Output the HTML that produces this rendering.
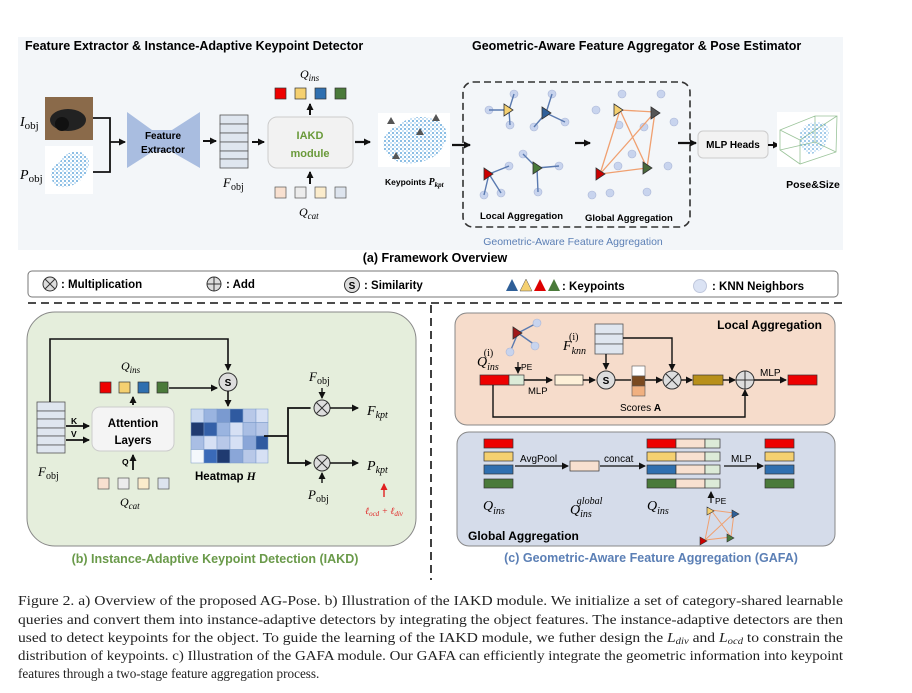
<!DOCTYPE html>
<html><head><meta charset="utf-8"><style>
body{margin:0;background:#fff}
svg{display:block}
text{font-family:"Liberation Sans",sans-serif}
.b{font-weight:bold}
.m{font-family:"Liberation Serif",serif;font-style:italic}
.cap{font-family:"Liberation Serif",serif;font-size:13.2px;fill:#222}
</style></head><body>
<svg width="912" height="693" viewBox="0 0 912 693" xmlns="http://www.w3.org/2000/svg">
<defs>
<marker id="a" markerWidth="8" markerHeight="8" refX="6" refY="4" orient="auto" markerUnits="userSpaceOnUse"><path d="M0,0.5 L7,4 L0,7.5z" fill="#111"/></marker>
<marker id="r" markerWidth="8" markerHeight="8" refX="6" refY="4" orient="auto" markerUnits="userSpaceOnUse"><path d="M0,0.5 L7,4 L0,7.5z" fill="#e02020"/></marker>
<marker id="o" markerWidth="6" markerHeight="6" refX="5" refY="3" orient="auto" markerUnits="userSpaceOnUse"><path d="M0,0 L5,3 L0,6z" fill="#f0a070"/></marker>
<pattern id="dots" width="4" height="4" patternUnits="userSpaceOnUse"><circle cx="1" cy="1" r="0.9" fill="#3a8fd0"/><circle cx="3" cy="3" r="0.7" fill="#7ab8e8"/></pattern>
</defs>

<!-- top panel -->
<rect x="18" y="37" width="825" height="213" fill="#f3f6f9"/>
<text x="25" y="50" class="b" font-size="12.5">Feature Extractor &amp; Instance-Adaptive Keypoint Detector</text>
<text x="472" y="50" class="b" font-size="12.5">Geometric-Aware Feature Aggregator &amp; Pose Estimator</text>

<text x="20" y="126" class="m" font-size="14">I<tspan font-style="normal" font-size="11" dy="3">obj</tspan></text>
<rect x="45" y="97" width="48" height="43" fill="#8a6a4a"/>
<ellipse cx="68" cy="120" rx="18" ry="11" fill="#222"/><circle cx="62" cy="124" r="7" fill="#111"/>
<text x="20" y="179" class="m" font-size="14">P<tspan font-style="normal" font-size="11" dy="3">obj</tspan></text>
<rect x="45" y="146" width="48" height="48" fill="#fff"/>
<path d="M52,180 Q48,168 60,162 Q66,150 80,152 Q92,156 88,168 Q84,182 70,186 Q56,190 52,180z" fill="url(#dots)"/>
<path d="M93,118 H110 V172 H93 M110,142 H125" fill="none" stroke="#111" stroke-width="1.8" marker-end="url(#a)"/>
<path d="M127,112 L152,130 L172,130 L200,112 L200,168 L172,152 L152,152 L127,168z" fill="#a9bde0"/>
<text x="163" y="139" text-anchor="middle" class="b" font-size="10">Feature</text>
<text x="163" y="153" text-anchor="middle" class="b" font-size="10">Extractor</text>
<line x1="203" y1="141" x2="216" y2="141" stroke="#111" stroke-width="2" marker-end="url(#a)"/>
<g fill="#dfe6ef" stroke="#555" stroke-width="0.8">
<rect x="220" y="115" width="28" height="9"/><rect x="220" y="124" width="28" height="9"/><rect x="220" y="133" width="28" height="9"/><rect x="220" y="142" width="28" height="9"/><rect x="220" y="151" width="28" height="8"/><rect x="220" y="159" width="28" height="9"/></g>
<text x="223" y="187" class="m" font-size="13">F<tspan font-style="normal" font-size="10" dy="3">obj</tspan></text>
<line x1="252" y1="142" x2="264" y2="142" stroke="#111" stroke-width="2" marker-end="url(#a)"/>
<rect x="268" y="117" width="85" height="51" rx="9" fill="#f2f2f2" stroke="#ccc"/>
<text x="310" y="139" text-anchor="middle" class="b" font-size="11" fill="#6a9a3a">IAKD</text>
<text x="310" y="157" text-anchor="middle" class="b" font-size="11" fill="#6a9a3a">module</text>
<text x="300" y="78" class="m" font-size="12">Q<tspan font-size="9" dy="3">ins</tspan></text>
<rect x="275" y="88" width="11" height="11" fill="#e00" stroke="#333" stroke-width=".7"/><rect x="295" y="88" width="11" height="11" fill="#f5d070" stroke="#333" stroke-width=".7"/><rect x="315" y="88" width="11" height="11" fill="#2f6fb0" stroke="#333" stroke-width=".7"/><rect x="335" y="88" width="11" height="11" fill="#4a7a3a" stroke="#333" stroke-width=".7"/>
<line x1="310" y1="115" x2="310" y2="104" stroke="#111" stroke-width="2" marker-end="url(#a)"/>
<line x1="310" y1="184" x2="310" y2="172" stroke="#111" stroke-width="2" marker-end="url(#a)"/>
<rect x="275" y="187" width="11" height="11" fill="#f8e0d0" stroke="#555" stroke-width=".7"/><rect x="295" y="187" width="11" height="11" fill="#ececec" stroke="#555" stroke-width=".7"/><rect x="315" y="187" width="11" height="11" fill="#fbeccc" stroke="#555" stroke-width=".7"/><rect x="335" y="187" width="11" height="11" fill="#dde4ee" stroke="#555" stroke-width=".7"/>
<text x="299" y="216" class="m" font-size="12">Q<tspan font-size="9" dy="3">cat</tspan></text>
<line x1="355" y1="142" x2="370" y2="142" stroke="#111" stroke-width="2.2" marker-end="url(#a)"/>
<rect x="378" y="113" width="72" height="54" fill="#fff"/>
<path d="M384,150 Q380,132 398,126 Q410,114 430,118 Q450,124 446,140 Q440,158 420,162 Q396,168 384,150z" fill="url(#dots)"/>
<path d="M391,117 l4,7 h-8z M436,114 l4,7 h-8z M396,152 l4,7 h-8z M420,128 l4,7 h-8z" fill="#555"/>
<text x="385" y="185" class="b" font-size="8.5">Keypoints <tspan class="m" font-size="10">P<tspan font-size="7" dy="2">kpt</tspan></tspan></text>
<line x1="452" y1="145" x2="470" y2="145" stroke="#111" stroke-width="2.2" marker-end="url(#a)"/>
<rect x="463" y="82" width="227" height="145" rx="10" fill="none" stroke="#333" stroke-width="1.6" stroke-dasharray="7,4"/>
<g fill="#c8d4ee" stroke="#aab6d6" stroke-width=".6">
<circle cx="514" cy="94" r="4"/><circle cx="489" cy="110" r="4"/><circle cx="510" cy="125" r="4"/><circle cx="552" cy="94" r="4"/><circle cx="534" cy="127" r="4"/><circle cx="565" cy="122" r="4"/>
<circle cx="509" cy="166" r="4"/><circle cx="484" cy="195" r="4"/><circle cx="501" cy="193" r="4"/><circle cx="523" cy="154" r="4"/><circle cx="559" cy="166" r="4"/><circle cx="538" cy="192" r="4"/>
<circle cx="622" cy="94" r="4"/><circle cx="661" cy="94" r="4"/><circle cx="596" cy="110" r="4"/><circle cx="619" cy="125" r="4"/><circle cx="644" cy="127" r="4"/><circle cx="674" cy="122" r="4"/><circle cx="632" cy="154" r="4"/><circle cx="618" cy="166" r="4"/><circle cx="668" cy="166" r="4"/><circle cx="592" cy="195" r="4"/><circle cx="610" cy="193" r="4"/><circle cx="647" cy="192" r="4"/></g>
<g stroke="#5a7ab0" stroke-width="1.4">
<path d="M509,110 L489,110 M509,110 L514,94 M509,110 L510,125"/><path d="M546,113 L552,94 M546,113 L534,127 M546,113 L565,122"/>
<path d="M489,174 L484,195 M489,174 L501,193 M489,174 L509,166"/><path d="M537,168 L523,154 M537,168 L559,166 M537,168 L538,192"/></g>
<path d="M504,104 l9,6 l-9,6z" fill="#f5d070" stroke="#333" stroke-width=".8"/>
<path d="M542,107 l9,6 l-9,6z" fill="#2f5f98" stroke="#333" stroke-width=".8"/>
<path d="M484,168 l9,6 l-9,6z" fill="#c00" stroke="#333" stroke-width=".8"/>
<path d="M533,162 l9,6 l-9,6z" fill="#4a7a3a" stroke="#333" stroke-width=".8"/>
<line x1="575" y1="143" x2="590" y2="143" stroke="#111" stroke-width="2.2" marker-end="url(#a)"/>
<g stroke="#f0a070" stroke-width="1.3" fill="none">
<line x1="620" y1="110" x2="655" y2="112"/><line x1="620" y1="110" x2="647" y2="168"/><line x1="620" y1="110" x2="600" y2="174"/><line x1="655" y1="112" x2="600" y2="174"/><line x1="655" y1="112" x2="647" y2="168"/><line x1="600" y1="174" x2="647" y2="168"/></g>
<path d="M614,104 l9,6 l-9,6z" fill="#f5d070" stroke="#333" stroke-width=".8"/>
<path d="M651,107 l9,6 l-9,6z" fill="#555" stroke="#333" stroke-width=".8"/>
<path d="M596,168 l9,6 l-9,6z" fill="#c00" stroke="#333" stroke-width=".8"/>
<path d="M643,162 l9,6 l-9,6z" fill="#4a6a3a" stroke="#333" stroke-width=".8"/>
<text x="480" y="219" class="b" font-size="9.5">Local Aggregation</text>
<text x="585" y="221" class="b" font-size="9.5">Global Aggregation</text>
<line x1="678" y1="143" x2="696" y2="143" stroke="#111" stroke-width="2.2" marker-end="url(#a)"/>
<rect x="698" y="131" width="70" height="27" rx="5" fill="#f2f2f2" stroke="#ccc"/>
<text x="733" y="148" text-anchor="middle" class="b" font-size="10">MLP Heads</text>
<line x1="768" y1="145" x2="779" y2="145" stroke="#111" stroke-width="2" marker-end="url(#a)"/>
<rect x="777" y="112" width="63" height="55" fill="#fff"/>
<g fill="none" stroke="#9bc49a" stroke-width=".8"><path d="M780,130 L815,116 L837,116 L836,152 L800,164 L780,150z M780,130 L800,140 L837,116 M800,140 L800,164 M815,116 L815,142 L780,150 M815,142 L836,152"/></g>
<path d="M800,140 Q798,124 816,122 Q832,122 828,138 Q824,152 810,154 Q800,152 800,140z" fill="url(#dots)" opacity=".8"/>
<text x="813" y="188" text-anchor="middle" class="b" font-size="10.5">Pose&amp;Size</text>
<text x="573" y="245" text-anchor="middle" font-size="10.5" fill="#5b7fb5">Geometric-Aware Feature Aggregation</text>
<text x="435" y="262" text-anchor="middle" class="b" font-size="12.5">(a) Framework Overview</text>

<!-- legend -->
<rect x="28" y="271" width="810" height="26" rx="4" fill="#fff" stroke="#777" stroke-width="1"/>
<g font-size="11.5" class="b">
<circle cx="50" cy="284" r="7" fill="#ddd" stroke="#333"/><path d="M45,279 L55,289 M55,279 L45,289" stroke="#333"/><text x="61" y="288">: Multiplication</text>
<circle cx="214" cy="284" r="7" fill="#ddd" stroke="#333"/><path d="M207,284 H221 M214,277 V291" stroke="#333"/><text x="226" y="288">: Add</text>
<circle cx="352" cy="285" r="7.5" fill="#ddd" stroke="#333"/><text x="352" y="289" text-anchor="middle" font-size="10">S</text><text x="364" y="289">: Similarity</text>
<path d="M506,291 l6,-12 l6,12z" fill="#2f5f98"/><path d="M520,291 l6,-12 l6,12z" fill="#f5d070" stroke="#555" stroke-width=".5"/><path d="M534,291 l6,-12 l6,12z" fill="#d00"/><path d="M548,291 l6,-12 l6,12z" fill="#4a7a3a"/><text x="562" y="290">: Keypoints</text>
<circle cx="700" cy="286" r="6.5" fill="#dbe3f4" stroke="#c0c8dd"/><text x="712" y="290">: KNN Neighbors</text>
</g>
<line x1="28" y1="303" x2="842" y2="303" stroke="#111" stroke-width="1.6" stroke-dasharray="8,5"/>
<line x1="431" y1="305" x2="431" y2="580" stroke="#111" stroke-width="1.6" stroke-dasharray="8,5"/>

<!-- panel b -->
<rect x="27" y="312" width="389" height="234" rx="28" fill="#e5eedc" stroke="#888"/>
<g fill="#dfe6ef" stroke="#555" stroke-width="0.8">
<rect x="37" y="402" width="28" height="9"/><rect x="37" y="411" width="28" height="8"/><rect x="37" y="419" width="28" height="9"/><rect x="37" y="428" width="28" height="8"/><rect x="37" y="436" width="28" height="9"/><rect x="37" y="445" width="28" height="8"/></g>
<text x="38" y="476" class="m" font-size="13">F<tspan font-style="normal" font-size="10" dy="3">obj</tspan></text>
<path d="M50,402 V339 H228 V370" fill="none" stroke="#111" stroke-width="1.6" marker-end="url(#a)"/>
<text x="71" y="424" class="b" font-size="8.5">K</text><text x="71" y="437" class="b" font-size="8.5">V</text>
<line x1="66" y1="426" x2="89" y2="426" stroke="#111" stroke-width="1.8" marker-end="url(#a)"/>
<line x1="66" y1="440" x2="89" y2="440" stroke="#111" stroke-width="1.8" marker-end="url(#a)"/>
<rect x="92" y="407" width="82" height="44" rx="8" fill="#f4f4f4" stroke="#ccc"/>
<text x="133" y="427" text-anchor="middle" class="b" font-size="11.5">Attention</text>
<text x="133" y="444" text-anchor="middle" class="b" font-size="11.5">Layers</text>
<text x="121" y="370" class="m" font-size="12">Q<tspan font-size="9" dy="3">ins</tspan></text>
<rect x="100" y="382" width="11" height="11" fill="#e00" stroke="#333" stroke-width=".7"/><rect x="119" y="382" width="11" height="11" fill="#f5d070" stroke="#333" stroke-width=".7"/><rect x="138" y="382" width="11" height="11" fill="#2f6fb0" stroke="#333" stroke-width=".7"/><rect x="157" y="382" width="11" height="11" fill="#4a7a3a" stroke="#333" stroke-width=".7"/>
<line x1="133" y1="405" x2="133" y2="397" stroke="#111" stroke-width="1.8" marker-end="url(#a)"/>
<line x1="169" y1="388" x2="217" y2="388" stroke="#111" stroke-width="1.6" marker-end="url(#a)"/>
<circle cx="228" cy="382" r="9" fill="#ddd" stroke="#333"/><text x="228" y="386" text-anchor="middle" class="b" font-size="10">S</text>
<line x1="133" y1="470" x2="133" y2="455" stroke="#111" stroke-width="1.8" marker-end="url(#a)"/>
<text x="122" y="465" class="b" font-size="8.5">Q</text>
<rect x="98" y="478" width="11" height="11" fill="#f8e0d0" stroke="#555" stroke-width=".7"/><rect x="118" y="478" width="11" height="11" fill="#ececec" stroke="#555" stroke-width=".7"/><rect x="138" y="478" width="11" height="11" fill="#fbeccc" stroke="#555" stroke-width=".7"/><rect x="158" y="478" width="11" height="11" fill="#dde4ee" stroke="#555" stroke-width=".7"/>
<text x="120" y="506" class="m" font-size="12">Q<tspan font-size="9" dy="3">cat</tspan></text>
<line x1="228" y1="391" x2="228" y2="406" stroke="#111" stroke-width="1.6" marker-end="url(#a)"/>
<g stroke="#7a9ac8" stroke-width=".5">
<rect x="191" y="409" width="13" height="13.5" fill="#c9d8f0"/><rect x="204" y="409" width="13" height="13.5" fill="#9ab4e0"/><rect x="217" y="409" width="13" height="13.5" fill="#7a9ad0"/><rect x="230" y="409" width="13" height="13.5" fill="#2f5aa0"/><rect x="243" y="409" width="13" height="13.5" fill="#b8c8e8"/><rect x="256" y="409" width="12" height="13.5" fill="#d6e0f4"/>
<rect x="191" y="422.5" width="13" height="13.5" fill="#1f3a70"/><rect x="204" y="422.5" width="13" height="13.5" fill="#3460a8"/><rect x="217" y="422.5" width="13" height="13.5" fill="#9ab4e0"/><rect x="230" y="422.5" width="13" height="13.5" fill="#d6e0f4"/><rect x="243" y="422.5" width="13" height="13.5" fill="#a9bee4"/><rect x="256" y="422.5" width="12" height="13.5" fill="#b8c8e8"/>
<rect x="191" y="436" width="13" height="13.5" fill="#a9bee4"/><rect x="204" y="436" width="13" height="13.5" fill="#d6e0f4"/><rect x="217" y="436" width="13" height="13.5" fill="#b8c8e8"/><rect x="230" y="436" width="13" height="13.5" fill="#d6e0f4"/><rect x="243" y="436" width="13" height="13.5" fill="#8aa6d8"/><rect x="256" y="436" width="12" height="13.5" fill="#2f5aa0"/>
<rect x="191" y="449.5" width="13" height="13.5" fill="#f4f8fc"/><rect x="204" y="449.5" width="13" height="13.5" fill="#3a6ab8"/><rect x="217" y="449.5" width="13" height="13.5" fill="#1f3a70"/><rect x="230" y="449.5" width="13" height="13.5" fill="#8aa6d8"/><rect x="243" y="449.5" width="13" height="13.5" fill="#b8c8e8"/><rect x="256" y="449.5" width="12" height="13.5" fill="#d6e0f4"/></g>
<text x="195" y="480" class="b" font-size="11.5">Heatmap <tspan class="m">H</tspan></text>
<path d="M264,436 H288 V408 H310 M288,436 V463 H310" fill="none" stroke="#111" stroke-width="1.8"/>
<path d="M304,408 H311 M304,463 H311" stroke="#111" marker-end="url(#a)"/>
<circle cx="322" cy="408" r="8" fill="#ddd" stroke="#333"/><path d="M316,402 L328,414 M328,402 L316,414" stroke="#333"/>
<circle cx="322" cy="463" r="8" fill="#ddd" stroke="#333"/><path d="M316,457 L328,469 M328,457 L316,469" stroke="#333"/>
<text x="309" y="381" class="m" font-size="13">F<tspan font-style="normal" font-size="10" dy="3">obj</tspan></text>
<line x1="322" y1="388" x2="322" y2="398" stroke="#111" stroke-width="1.4" marker-end="url(#a)"/>
<line x1="322" y1="483" x2="322" y2="473" stroke="#111" stroke-width="1.4" marker-end="url(#a)"/>
<text x="308" y="499" class="m" font-size="13">P<tspan font-style="normal" font-size="10" dy="3">obj</tspan></text>
<line x1="330" y1="408" x2="358" y2="408" stroke="#111" stroke-width="1.4" marker-end="url(#a)"/>
<line x1="330" y1="463" x2="358" y2="463" stroke="#111" stroke-width="1.4" marker-end="url(#a)"/>
<text x="367" y="415" class="m" font-size="14">F<tspan font-size="10" dy="3">kpt</tspan></text>
<text x="367" y="470" class="m" font-size="14">P<tspan font-size="10" dy="3">kpt</tspan></text>
<line x1="384" y1="497" x2="384" y2="484" stroke="#e02020" stroke-width="1.4" marker-end="url(#r)"/>
<text x="384" y="514" text-anchor="middle" class="m" font-size="9.5" fill="#e02020">ℓ<tspan font-size="7" dy="2">ocd</tspan><tspan dy="-2"> + ℓ</tspan><tspan font-size="7" dy="2">div</tspan></text>
<text x="215" y="563" text-anchor="middle" class="b" font-size="12.5" fill="#6a9a4a">(b) Instance-Adaptive Keypoint Detection (IAKD)</text>

<!-- panel c local -->
<rect x="455" y="313" width="380" height="112" rx="12" fill="#f6dccb" stroke="#888"/>
<text x="822" y="329" text-anchor="end" class="b" font-size="12">Local Aggregation</text>
<g stroke="#5a7ab0" stroke-width="1.4"><path d="M518,333 L537,323 M518,333 L535,345 M518,333 L510,352"/></g>
<g fill="#c8d4ee" stroke="#aab6d6" stroke-width=".6"><circle cx="537" cy="323" r="4"/><circle cx="535" cy="346" r="4"/><circle cx="510" cy="352" r="4"/></g>
<path d="M513,327 l9,6 l-9,6z" fill="#a01818" stroke="#333" stroke-width=".8"/>
<text x="477" y="366" class="m" font-size="14">Q<tspan font-size="10" dy="4">ins</tspan><tspan font-size="10" font-style="normal" dx="-15" dy="-14">(i)</tspan></text>
<rect x="480" y="375" width="29" height="10" fill="#e00" stroke="#333" stroke-width=".7"/><rect x="509" y="375" width="15" height="10" fill="#dcebd8" stroke="#333" stroke-width=".7"/>
<line x1="518" y1="362" x2="518" y2="373" stroke="#111" stroke-width="1.2" marker-end="url(#a)"/>
<text x="521" y="370" font-size="8.5">PE</text>
<line x1="524" y1="380" x2="552" y2="380" stroke="#111" stroke-width="1.4" marker-end="url(#a)"/>
<text x="528" y="394" font-size="9.5">MLP</text>
<rect x="555" y="375" width="28" height="10" fill="#fdf0d8" stroke="#333" stroke-width=".7"/>
<line x1="583" y1="380" x2="595" y2="380" stroke="#111" stroke-width="1.4" marker-end="url(#a)"/>
<circle cx="606" cy="380" r="9" fill="#ddd" stroke="#333"/><text x="606" y="384" text-anchor="middle" class="b" font-size="10">S</text>
<g fill="#dfe6ef" stroke="#555" stroke-width="0.8"><rect x="595" y="324" width="28" height="10"/><rect x="595" y="334" width="28" height="10"/><rect x="595" y="344" width="28" height="10"/></g>
<text x="563" y="350" class="m" font-size="14">F<tspan font-size="10" dy="4">knn</tspan><tspan font-size="10" font-style="normal" dx="-17" dy="-14">(i)</tspan></text>
<line x1="606" y1="354" x2="606" y2="369" stroke="#111" stroke-width="1.4" marker-end="url(#a)"/>
<path d="M623,338 H672 V370" fill="none" stroke="#111" stroke-width="1.4" marker-end="url(#a)"/>
<line x1="615" y1="380" x2="631" y2="380" stroke="#111" stroke-width="1.4"/>
<rect x="632" y="366" width="13" height="10" fill="#fff" stroke="#555" stroke-width=".6"/><rect x="632" y="376" width="13" height="10" fill="#7a4a20" stroke="#555" stroke-width=".6"/><rect x="632" y="386" width="13" height="10" fill="#f0b080" stroke="#555" stroke-width=".6"/>
<line x1="645" y1="380" x2="662" y2="380" stroke="#111" stroke-width="1.4" marker-end="url(#a)"/>
<text x="620" y="411" font-size="10">Scores <tspan class="b">A</tspan></text>
<circle cx="672" cy="380" r="9" fill="#ddd" stroke="#333"/><path d="M666,374 L678,386 M678,374 L666,386" stroke="#333"/>
<line x1="681" y1="380" x2="692" y2="380" stroke="#111" stroke-width="1.4" marker-end="url(#a)"/>
<rect x="693" y="375" width="30" height="10" fill="#b8901a" stroke="#333" stroke-width=".7"/>
<line x1="723" y1="380" x2="735" y2="380" stroke="#111" stroke-width="1.4" marker-end="url(#a)"/>
<circle cx="745" cy="380" r="9" fill="#ddd" stroke="#333"/><path d="M736,380 H754 M745,371 V389" stroke="#333"/>
<line x1="754" y1="380" x2="786" y2="380" stroke="#111" stroke-width="1.4" marker-end="url(#a)"/>
<text x="760" y="376" font-size="10">MLP</text>
<rect x="788" y="375" width="29" height="10" fill="#e00" stroke="#333" stroke-width=".7"/>
<path d="M493,385 V417 H745 V390" fill="none" stroke="#111" stroke-width="1.4" marker-end="url(#a)"/>

<!-- panel c global -->
<rect x="457" y="432" width="378" height="114" rx="12" fill="#d5dcea" stroke="#888"/>
<g stroke="#333" stroke-width=".7">
<rect x="484" y="439" width="29" height="9" fill="#e00"/><rect x="484" y="452" width="29" height="9" fill="#f5d070"/><rect x="484" y="465" width="29" height="9" fill="#2f6fb0"/><rect x="484" y="479" width="29" height="9" fill="#4a7a3a"/>
<rect x="570" y="461" width="29" height="10" fill="#f8e0d0"/>
<rect x="647" y="439" width="29" height="9" fill="#e00"/><rect x="647" y="452" width="29" height="9" fill="#f5d070"/><rect x="647" y="465" width="29" height="9" fill="#2f6fb0"/><rect x="647" y="479" width="29" height="9" fill="#4a7a3a"/>
<rect x="676" y="439" width="29" height="9" fill="#f8e0d0"/><rect x="676" y="452" width="29" height="9" fill="#f8e0d0"/><rect x="676" y="465" width="29" height="9" fill="#f8e0d0"/><rect x="676" y="479" width="29" height="9" fill="#f8e0d0"/>
<rect x="705" y="439" width="15" height="9" fill="#dcebd8"/><rect x="705" y="452" width="15" height="9" fill="#dcebd8"/><rect x="705" y="465" width="15" height="9" fill="#dcebd8"/><rect x="705" y="479" width="15" height="9" fill="#dcebd8"/>
<rect x="765" y="439" width="29" height="9" fill="#e00"/><rect x="765" y="452" width="29" height="9" fill="#f5d070"/><rect x="765" y="465" width="29" height="9" fill="#2f6fb0"/><rect x="765" y="479" width="29" height="9" fill="#4a7a3a"/></g>
<line x1="515" y1="466" x2="568" y2="466" stroke="#111" stroke-width="1.2" marker-end="url(#a)"/>
<text x="520" y="462" font-size="10">AvgPool</text>
<line x1="600" y1="466" x2="645" y2="466" stroke="#111" stroke-width="1.2" marker-end="url(#a)"/>
<text x="604" y="462" font-size="10">concat</text>
<line x1="724" y1="466" x2="763" y2="466" stroke="#111" stroke-width="1.2" marker-end="url(#a)"/>
<text x="731" y="462" font-size="10">MLP</text>
<text x="483" y="510" class="m" font-size="14">Q<tspan font-size="10" dy="4">ins</tspan></text>
<text x="570" y="514" class="m" font-size="14">Q<tspan font-size="10" dy="3">ins</tspan><tspan font-size="10" dx="-15" dy="-13">global</tspan></text>
<text x="647" y="510" class="m" font-size="14">Q<tspan font-size="10" dy="4">ins</tspan></text>
<line x1="711" y1="503" x2="711" y2="492" stroke="#111" stroke-width="1.2" marker-end="url(#a)"/>
<text x="715" y="504" font-size="8.5">PE</text>
<g stroke="#f0a070" stroke-width="1" fill="none"><path d="M711,510 L734,513 L731,537 L705,540z M711,510 L731,537 M734,513 L705,540"/></g>
<path d="M707,507 l7,4 l-7,4z" fill="#f5d070" stroke="#333" stroke-width=".6"/><path d="M732,510 l7,4 l-7,4z" fill="#2f5f98" stroke="#333" stroke-width=".6"/><path d="M700,537 l7,4 l-7,4z" fill="#c00" stroke="#333" stroke-width=".6"/><path d="M727,534 l7,4 l-7,4z" fill="#4a7a3a" stroke="#333" stroke-width=".6"/>
<text x="468" y="540" class="b" font-size="12">Global Aggregation</text>
<text x="651" y="562" text-anchor="middle" class="b" font-size="12.5" fill="#5b7fb5">(c) Geometric-Aware Feature Aggregation (GAFA)</text>

<!-- caption -->
<text x="18" y="605" class="cap" textLength="825" lengthAdjust="spacingAndGlyphs">Figure 2.  a) Overview of the proposed AG-Pose.  b) Illustration of the IAKD module.  We initialize a set of category-shared learnable</text>
<text x="18" y="624" class="cap" textLength="825" lengthAdjust="spacingAndGlyphs">queries and convert them into instance-adaptive detectors by integrating the object features.  The instance-adaptive detectors are then</text>
<text x="18" y="642" class="cap" textLength="825" lengthAdjust="spacingAndGlyphs">used to detect keypoints for the object.  To guide the learning of the IAKD module, we futher design the <tspan font-style="italic">L<tspan font-size="9" dy="2">div</tspan></tspan><tspan dy="-2"> and </tspan><tspan font-style="italic">L<tspan font-size="9" dy="2">ocd</tspan></tspan><tspan dy="-2"> to constrain the</tspan></text>
<text x="18" y="660" class="cap" textLength="825" lengthAdjust="spacingAndGlyphs">distribution of keypoints. c) Illustration of the GAFA module. Our GAFA can efficiently integrate the geometric information into keypoint</text>
<text x="18" y="678" class="cap">features through a two-stage feature aggregation process.</text>
</svg>
</body></html>
